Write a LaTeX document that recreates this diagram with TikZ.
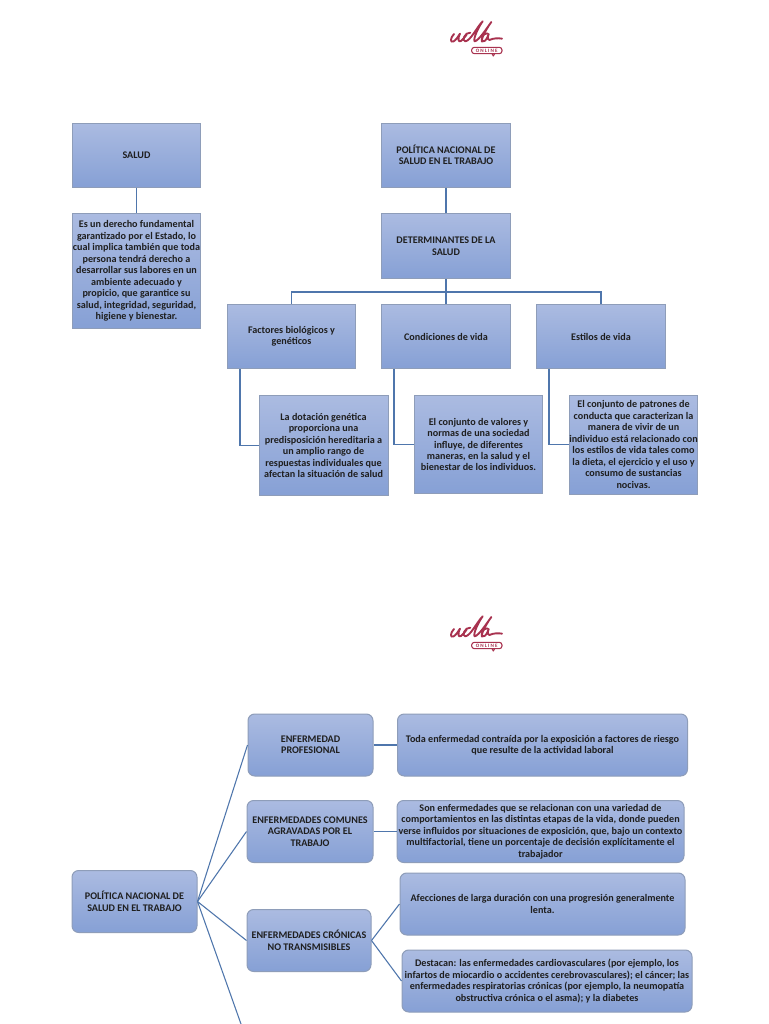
\documentclass[tikz,border=0pt]{standalone}
\usepackage{fontspec}
\setmainfont{Carlito}
\usetikzlibrary{calc}
\definecolor{boxtop}{HTML}{ABBBE1}
\definecolor{boxbot}{HTML}{86A0D5}
\definecolor{boxedge}{HTML}{8E9DB9}
\definecolor{wire}{HTML}{4F76AC}
\definecolor{logored}{HTML}{A8324F}
\tikzset{
  x=0.75pt,y=-0.75pt,
  boxbase/.style={draw=boxedge,line width=0.75pt,top color=boxtop,bottom color=boxbot,
    align=center,inner sep=0pt,text=black!88,
    font=\bfseries\fontsize{7.6}{8.6}\selectfont},
  sq/.style={boxbase,rectangle},
  rd/.style={boxbase,rectangle,rounded corners=5pt},
  wirel/.style={draw=wire,line width=0.8pt},
  dim/.style n args={2}{minimum width=#1*0.75pt,minimum height=#2*0.75pt},
  logopic/.pic={
    \begin{scope}[scale=1/3,draw=logored,line cap=round,line join=round]
      \draw[line width=1.4pt] (72,72) .. controls (60,84) and (60,100) .. (71,94)
        .. controls (78,90) and (84,80) .. (90,71) .. controls (83,84) and (84,99) .. (93,93)
        .. controls (100,88) and (104,80) .. (110,74);
      \draw[line width=1.4pt] (121,68) .. controls (104,66) and (94,94) .. (106,94)
        .. controls (122,92) and (140,52) .. (158,34) .. controls (146,50) and (128,88) .. (134,94)
        .. controls (146,92) and (168,58) .. (184,36) .. controls (172,52) and (150,90) .. (156,95);
      \draw[line width=1.4pt] (172,70) .. controls (158,68) and (150,92) .. (160,94)
        .. controls (168,94) and (172,82) .. (176,72) .. controls (172,84) and (172,90) .. (178,90)
        .. controls (192,84) and (205,84) .. (216,86);
      \draw[line width=0.8pt,rounded corners=2pt,fill=white] (125,112) rectangle (216,131);
      \draw[line width=0.8pt] (186,131) -- (190,138) -- (194,131);
      \node[text=logored,font=\bfseries\fontsize{3.8}{4}\selectfont,inner sep=0pt] (#1) at (170,121.5) {O N L I N E};
    \end{scope}
  },
}
\begin{document}
\begin{tikzpicture}
\useasboundingbox (0,0) rectangle (768,1024);
\fill[white] (0,0) rectangle (768,1024);

\pic at (430,10) {logopic=logoa};
\pic at (430,605) {logopic=logob};

% upper sheet
\node[sq,dim={128}{64}] (salud) at (136.5,155) {SALUD};
\node[sq,dim={128}{115}] (saluddesc) at (136.5,271) {Es un derecho fundamental\\garantizado por el Estado, lo\\cual implica también que toda\\persona tendrá derecho a\\desarrollar sus labores en un\\ambiente adecuado y\\propicio, que garantice su\\salud, integridad, seguridad,\\higiene y bienestar.};
\node[sq,dim={129}{64}] (pol) at (446,155) {POLÍTICA NACIONAL DE\\SALUD EN EL TRABAJO};
\node[sq,dim={129}{65}] (det) at (446,246) {DETERMINANTES DE LA\\SALUD};
\node[sq,dim={128}{64}] (fac) at (291.5,336.5) {Factores biológicos y\\genéticos};
\node[sq,dim={129}{64}] (con) at (446,336.5) {Condiciones de vida};
\node[sq,dim={129}{64}] (est) at (601,336.5) {Estilos de vida};
\node[sq,dim={129}{100}] (facd) at (323.5,445.5) {La dotación genética\\proporciona una\\predisposición hereditaria a\\un amplio rango de\\respuestas individuales que\\afectan la situación de salud};
\node[sq,dim={128}{98}] (cond) at (478.5,444.5) {El conjunto de valores y\\normas de una sociedad\\influye, de diferentes\\maneras, en la salud y el\\bienestar de los individuos.};
\node[sq,dim={128}{99}] (estd) at (633.5,444.5) {El conjunto de patrones de\\conducta que caracterizan la\\manera de vivir de un\\individuo está relacionado con\\los estilos de vida tales como\\la dieta, el ejercicio y el uso y\\consumo de sustancias\\nocivas.};

\draw[wirel] (salud.south) -- (saluddesc.north);
\draw[wirel] (pol.south) -- (det.north);
\draw[wirel] (det.south) -- (con.north);
\coordinate (bus) at ($(det.south)+(0,13)$);
\draw[wirel] (fac.north) |- (bus) -| (est.north);
\draw[wirel] ($(fac.south west)+(13,0)$) |- (facd.west);
\draw[wirel] ($(con.south west)+(13,0)$) |- (cond.west);
\draw[wirel] ($(est.south west)+(13,0)$) |- (estd.west);

% lower sheet
\node[rd,dim={125}{62}] (ep) at (310.5,745) {ENFERMEDAD\\PROFESIONAL};
\node[rd,dim={290}{62}] (t1) at (542.5,745) {Toda enfermedad contraída por la exposición a factores de riesgo\\que resulte de la actividad laboral};
\node[rd,dim={126}{62}] (ec) at (310,831.5) {ENFERMEDADES COMUNES\\AGRAVADAS POR EL\\TRABAJO};
\node[rd,dim={287}{62}] (t2) at (540.5,831.5) {Son enfermedades que se relacionan con una variedad de\\comportamientos en las distintas etapas de la vida, donde pueden\\verse influidos por situaciones de exposición, que, bajo un contexto\\multifactorial, tiene un porcentaje de decisión explícitamente el\\trabajador};
\node[rd,dim={125}{62}] (pol2) at (134.5,901.5) {POLÍTICA NACIONAL DE\\SALUD EN EL TRABAJO};
\node[rd,dim={124}{62}] (ecr) at (309,940.5) {ENFERMEDADES CRÓNICAS\\NO TRANSMISIBLES};
\node[rd,dim={285}{62}] (t3) at (542.5,904) {Afecciones de larga duración con una progresión generalmente\\lenta.};
\node[rd,dim={290}{62}] (t4) at (547,981) {Destacan: las enfermedades cardiovasculares (por ejemplo, los\\infartos de miocardio o accidentes cerebrovasculares); el cáncer; las\\enfermedades respiratorias crónicas (por ejemplo, la neumopatía\\obstructiva crónica o el asma); y la diabetes};
\coordinate (offpage) at (241,1024);

\draw[wirel] (ep.east) -- (t1.west);
\draw[wirel] (ec.east) -- (t2.west);
\draw[wirel] (pol2.east) -- (ep.west);
\draw[wirel] (pol2.east) -- (ec.west);
\draw[wirel] (pol2.east) -- (ecr.west);
\draw[wirel] (pol2.east) -- (offpage);
\draw[wirel] (ecr.east) -- (t3.west);
\draw[wirel] (ecr.east) -- (t4.west);
\end{tikzpicture}
\end{document}
